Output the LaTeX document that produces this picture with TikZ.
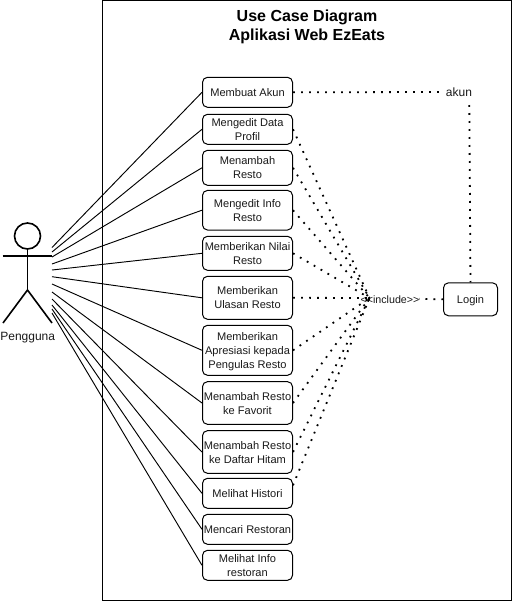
\documentclass[tikz,border=0pt]{standalone}
\usepackage{fontspec}
\setmainfont{Liberation Sans}
\usetikzlibrary{calc}
\newcommand\ucsize{\fontsize{8.3}{10.5}\selectfont}
\newcommand\ut[1]{\raisebox{-1pt}[\height][\depth]{\ucsize\begin{tabular}{@{}c@{}}#1\end{tabular}}}
\tikzset{
  ucbox/.style={draw=black,line width=0.75pt,rounded corners=3.75pt,minimum width=67.5pt,inner sep=0pt,text=black!90,anchor=center},
  assoc/.style={draw=black,line width=0.7pt},
  dots/.style={draw=black,line width=1.35pt,dash pattern=on 1.35pt off 4.65pt},
  actorline/.style={draw=black,line width=1.2pt},
  plain/.style={inner sep=0pt,text=black!90,font=\fontsize{9}{10.5}\selectfont}
}
\begin{document}
\begin{tikzpicture}[x=0.75pt,y=-0.75pt]
\useasboundingbox (0,0) rectangle (514,611);
\draw[line width=0.75pt] (102.5,0.5) rectangle (511.5,600.5);
\node[inner sep=0pt,align=center,font=\bfseries\fontsize{12}{14.25}\selectfont] (title) at (307,27) {Use Case Diagram\\Aplikasi Web EzEats};
% actor
\node[draw=black,line width=1.2pt,circle,minimum size=19.5pt,inner sep=0pt] (head) at (27.5,236) {};
\coordinate (armL) at (2.5,256);
\coordinate (armR) at (52,256);
\coordinate (hip) at (27.5,290);
\coordinate (footL) at (3,323);
\coordinate (footR) at (52,323);
\draw[actorline] (head.south) -- (hip);
\draw[actorline] (armL) -- (armR);
\draw[actorline] (footL) -- (hip) -- (footR);
\node[plain] (pengguna) at (27.7,337.5) {Pengguna};
% boxes
\node[ucbox,minimum height=22.5pt] (b1) at (247.5,92.3) {\ut{Membuat Akun}};
\node[ucbox,minimum height=22.5pt] (b2) at (247.5,129.3) {\ut{Mengedit Data\\Profil}};
\node[ucbox,minimum height=26.25pt] (b3) at (247.5,167.8) {\ut{Menambah\\Resto}};
\node[ucbox,minimum height=29.7pt] (b4) at (247.5,210.2) {\ut{Mengedit Info\\Resto}};
\node[ucbox,minimum height=25.5pt] (b5) at (247.5,253.3) {\ut{Memberikan Nilai\\Resto}};
\node[ucbox,minimum height=32.25pt] (b6) at (247.5,297.8) {\ut{Memberikan\\Ulasan Resto}};
\node[ucbox,minimum height=37.5pt] (b7) at (247.5,350.3) {\ut{Memberikan\\Apresiasi kepada\\Pengulas Resto}};
\node[ucbox,minimum height=32pt] (b8) at (247.5,403) {\ut{Menambah Resto\\ke Favorit}};
\node[ucbox,minimum height=32pt] (b9) at (247.5,452) {\ut{Menambah Resto\\ke Daftar Hitam}};
\node[ucbox,minimum height=22.5pt] (b10) at (247.5,493.3) {\ut{Melihat Histori}};
\node[ucbox,minimum height=22.5pt] (b11) at (247.5,529.3) {\ut{Mencari Restoran}};
\node[ucbox,minimum height=22.5pt] (b12) at (247.5,565.3) {\ut{Melihat Info\\restoran}};
\node[ucbox,minimum width=40.5pt,minimum height=24.75pt] (login) at (470.5,299.3) {\ut{Login}};
\node[plain] (akun) at (459,92) {akun};
% actor associations
\foreach \i/\y in {1/247.5,2/252,3/257,4/264,5/270,6/276.7,7/284,8/292,9/299,10/305,11/309,12/313}{
  \coordinate (a\i) at (52,\y);
  \draw[assoc] (a\i) -- (b\i.west);
}
% includes
\coordinate (hub) at (369.5,298);
\coordinate (h10) at ($(b10.east)+(0,-8)$);
\coordinate (akunend) at (441,92);
\draw[dots] (hub) -- (login.west);
\node[inner sep=0pt,fill=white,text=black!90,font=\fontsize{8}{9}\selectfont] (incl) at (390,299.8) {<{}<include>{}>};
\foreach \n in {b2.east,b3.east,b4.east,b5.east,b6.east,b7.east,b8.east,b9.east,h10}{
  \draw[dots] (\n) -- (hub);
}
\draw[dots] (b1.east) -- (akunend);
\coordinate (akunfoot) at (469.3,105);
\draw[dots] (akunfoot) -- (login.north);
\end{tikzpicture}
\end{document}
